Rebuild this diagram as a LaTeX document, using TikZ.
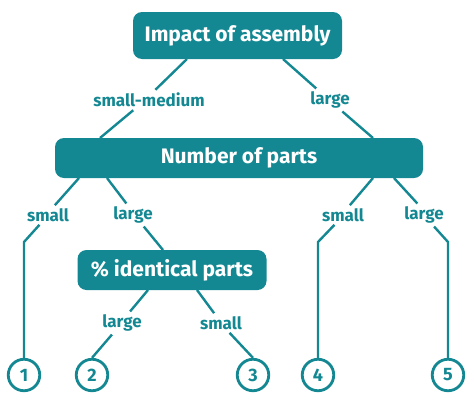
\documentclass[tikz,border=0pt]{standalone}
\usepackage{fontspec}
\setmainfont{Fira Sans}
\usetikzlibrary{positioning}
\definecolor{petrol}{RGB}{20,136,146}

\begin{document}
\begin{tikzpicture}[x=1pt,y=-1pt,
  box/.style={fill=petrol,rounded corners=9pt,text=white,inner sep=0pt,
    font=\bfseries\fontsize{21}{24}\selectfont,minimum height=40pt},
  choice/.style={text=petrol,inner sep=3pt,font=\bfseries\fontsize{17}{19}\selectfont},
  leaf/.style={circle,draw=petrol,line width=2.8pt,minimum size=31.5pt,inner sep=0pt,
    text=petrol,font=\bfseries\fontsize{18}{20}\selectfont},
  edge/.style={petrol,line width=2.4pt}]
\useasboundingbox (0,0) rectangle (474,402);
% decision boxes
\node[box,minimum width=209pt,minimum height=47pt] (impact) at (237.5,35.5) {Impact of assembly};
\node[box,minimum width=368pt] (parts) at (239,158) {Number of parts};
\node[box,minimum width=189pt] (ident) at (172,270) {\% identical parts};
% branch labels
\node[choice] (smallmed) at (149,100) {small-medium};
\node[choice] (largeA) at (330,100) {large};
\node[choice] (smallB) at (48,215) {small};
\node[choice] (largeB) at (133,215) {large};
\node[choice] (smallC) at (343,215) {small};
\node[choice] (largeC) at (424,215) {large};
\node[choice] (largeD) at (122,323) {large};
\node[choice] (smallD) at (221,323) {small};
% outcomes
\node[leaf] (o1) at (24,375) {1};
\node[leaf] (o2) at (92,375) {2};
\node[leaf] (o3) at (253,375) {3};
\node[leaf] (o4) at (318,375) {4};
\node[leaf] (o5) at (448,375) {5};
% attachment points on the boxes and bends
\coordinate (i1) at (187,59);
\coordinate (i2) at (283,59);
\coordinate (p0) at (100,138);
\coordinate (p9) at (373,138);
\coordinate (p1) at (79,178);
\coordinate (p2) at (107,178);
\coordinate (p3) at (373,178);
\coordinate (p4) at (394,178);
\coordinate (q0) at (163,250);
\coordinate (q1) at (148,290);
\coordinate (q2) at (197,290);
\coordinate (k1) at (24,242);
\coordinate (k4) at (318,242);
\coordinate (k5) at (448,242);
% connectors
\draw[edge] (i1) -- (smallmed.58);
\draw[edge] (smallmed.213) -- (p0);
\draw[edge] (i2) -- (largeA.140);
\draw[edge] (largeA.317) -- (p9);
\draw[edge] (p1) -- (smallB.55);
\draw[edge] (smallB.229) -- (k1) -- (o1);
\draw[edge] (p2) -- (largeB.120);
\draw[edge] (largeB.313) -- (q0);
\draw[edge] (p3) -- (smallC.55);
\draw[edge] (smallC.229) -- (k4) -- (o4);
\draw[edge] (p4) -- (largeC.120);
\draw[edge] (largeC.311) -- (k5) -- (o5);
\draw[edge] (q1) -- (largeD.55);
\draw[edge] (largeD.229) -- (o2.north);
\draw[edge] (q2) -- (smallD.125);
\draw[edge] (smallD.311) -- (o3.north);
\end{tikzpicture}
\end{document}
